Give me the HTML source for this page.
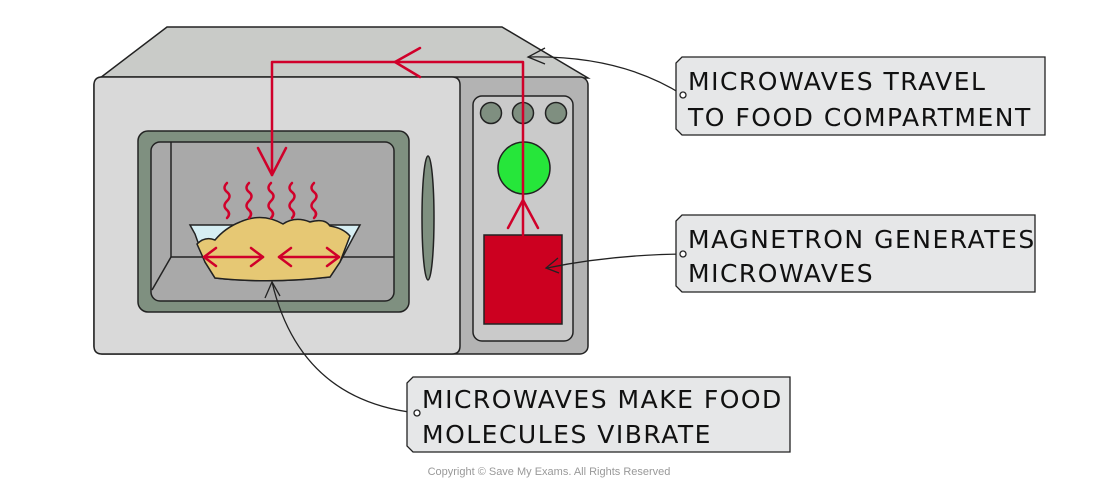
<!DOCTYPE html>
<html><head><style>
body{margin:0;background:#fff;}
svg{display:block;}
.lab{font-family:"DejaVu Sans","Liberation Sans",sans-serif;}
.cp{font-family:"Liberation Sans",sans-serif;}
</style></head><body>
<svg width="1100" height="478" viewBox="0 0 1100 478" xmlns="http://www.w3.org/2000/svg">
<g stroke="#222" stroke-width="1.5">
<polygon points="167,27 502,27 588,78 100,78" fill="#c9cbc8"/>
<rect x="94" y="77" width="494" height="277" rx="8" fill="#b3b3b3"/>
<path d="M102,77 H452 Q460,77 460,85 V346 Q460,354 452,354 H102 Q94,354 94,346 V85 Q94,77 102,77Z" fill="#d9d9d9"/>
<rect x="473" y="96" width="100" height="245" rx="9" fill="#cacaca"/>
<circle cx="491" cy="113" r="10.5" fill="#7f8f80"/>
<circle cx="523" cy="113" r="10.5" fill="#7f8f80"/>
<circle cx="556" cy="113" r="10.5" fill="#7f8f80"/>
<circle cx="524" cy="168" r="26" fill="#26e63a"/>
<rect x="484" y="235" width="78" height="89" fill="#cc0020"/>
<rect x="138" y="131" width="271" height="181" rx="10" fill="#7f9080"/>
<rect x="151" y="142" width="243" height="159" rx="9" fill="#a9a9a9"/>
<line x1="171" y1="142" x2="171" y2="257"/>
<line x1="171" y1="257" x2="394" y2="257"/>
<line x1="171" y1="257" x2="152" y2="290"/>
<ellipse cx="428" cy="218" rx="6" ry="62" fill="#7f9080"/>
<path d="M190,225 L360,225 L355,234 L340,262 L330,277 Q270,284 215,278 L205,262 L195,234Z" fill="#d6eef3"/>
<path d="M197,244 Q205,236 215,240 Q225,228 240,222 Q262,212 283,224 Q295,216 310,222 Q325,218 330,226 Q343,228 350,236 L340,262 L330,277 Q270,284 215,278 L205,262Z" fill="#e6c874"/>
</g>
<g stroke="#d0002a" stroke-width="2.5" fill="none" stroke-linecap="round" stroke-linejoin="round">
<polyline points="523,235 523,62 272,62 272,175"/>
<polyline points="508,228 523,200 538,228"/>
<polyline points="420,48 395,62 420,77"/>
<polyline points="258,148 272,175 286,148"/>
<g id="w"><path d="M227,183 q-5,5 0,9 q5,4 0,9 q-5,5 0,9 q4,4 0,8"/></g>
<use href="#w" x="22"/><use href="#w" x="44"/><use href="#w" x="65"/><use href="#w" x="87"/>
<line x1="204" y1="257" x2="263" y2="257"/>
<polyline points="216,248 204,257 216,266"/><polyline points="251,248 263,257 251,266"/>
<line x1="279" y1="257" x2="339" y2="257"/>
<polyline points="291,248 279,257 291,266"/><polyline points="327,248 339,257 327,266"/>
</g>
<g stroke="#222" stroke-width="1.3" fill="none">
<path d="M683,95 Q620,55 528,57"/><polyline points="545,48 528,57 545,64"/>
<path d="M683,254 Q610,255 547,268"/><polyline points="558,258 546,268 559,273"/>
<path d="M417,413 Q300,400 272,282"/><polyline points="265,298 272,282 280,296"/>
</g>
<g stroke="#222" stroke-width="1.3" fill="#e6e7e8">
<path d="M682,57 H1045 V135 H682 L676,129 V63Z"/>
<path d="M682,215 H1035 V292 H682 L676,286 V221Z"/>
<path d="M413,377 H790 V452 H413 L407,446 V383Z"/>
<circle cx="683" cy="95" r="3" fill="#fff"/>
<circle cx="683" cy="254" r="3" fill="#fff"/>
<circle cx="417" cy="413" r="3" fill="#fff"/>
</g>
<g class="lab" font-size="25" fill="#111" letter-spacing="1.5">
<text x="688" y="90">MICROWAVES TRAVEL</text>
<text x="688" y="126">TO FOOD COMPARTMENT</text>
<text x="688" y="248">MAGNETRON GENERATES</text>
<text x="688" y="282">MICROWAVES</text>
<text x="422" y="408">MICROWAVES MAKE FOOD</text>
<text x="422" y="443">MOLECULES VIBRATE</text>
</g>
<text class="cp" x="549" y="475" font-size="11" fill="#999" text-anchor="middle">Copyright © Save My Exams. All Rights Reserved</text>
</svg>
</body></html>
